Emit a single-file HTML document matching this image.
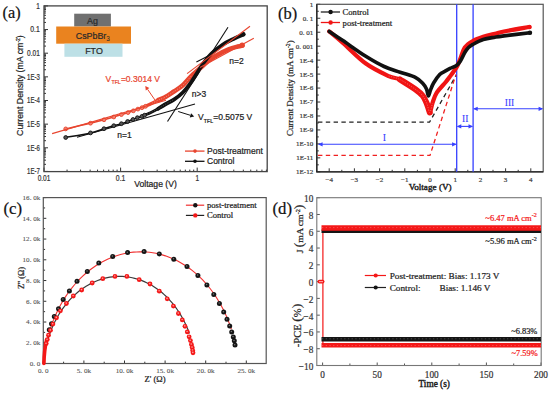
<!DOCTYPE html>
<html><head><meta charset="utf-8"><style>
html,body{margin:0;padding:0;background:#fff;width:550px;height:393px;overflow:hidden;}
svg{display:block;}
</style></head><body>
<svg width="550" height="393" viewBox="0 0 550 393">
<rect width="550" height="393" fill="#fff"/>
<rect x="74.2" y="13.7" width="36.7" height="12.8" fill="#707070"/>
<rect x="56.2" y="26.5" width="74.8" height="17.2" fill="#ea831f"/>
<rect x="64.4" y="43.7" width="58.1" height="13.1" fill="#bde0e6"/>
<text x="92.5" y="23.5" font-size="8.9" font-family='"Liberation Sans", sans-serif' fill="#2a2a2a" text-anchor="middle" stroke="#2a2a2a" stroke-width="0.22" >Ag</text>
<text x="92.8" y="38.7" font-size="8.9" font-family='"Liberation Sans", sans-serif' fill="#2a2a2a" text-anchor="middle" stroke="#2a2a2a" stroke-width="0.22" >CsPbBr<tspan font-size="6.4" dy="2.4" stroke-width="0.05">3</tspan></text>
<text x="94" y="53.8" font-size="8.9" font-family='"Liberation Sans", sans-serif' fill="#2a2a2a" text-anchor="middle" stroke="#2a2a2a" stroke-width="0.22" >FTO</text>
<path d="M44,5.9 h4 M44,22.43 h2 M44,18.27 h2 M44,15.31 h2 M44,13.02 h2 M44,11.15 h2 M44,9.56 h2 M44,8.19 h2 M44,6.98 h2 M44,29.55 h4 M44,46.08 h2 M44,41.92 h2 M44,38.96 h2 M44,36.67 h2 M44,34.8 h2 M44,33.21 h2 M44,31.84 h2 M44,30.63 h2 M44,53.2 h4 M44,69.73 h2 M44,65.57 h2 M44,62.61 h2 M44,60.32 h2 M44,58.45 h2 M44,56.86 h2 M44,55.49 h2 M44,54.28 h2 M44,76.85 h4 M44,93.38 h2 M44,89.22 h2 M44,86.26 h2 M44,83.97 h2 M44,82.1 h2 M44,80.51 h2 M44,79.14 h2 M44,77.93 h2 M44,100.5 h4 M44,117.03 h2 M44,112.87 h2 M44,109.91 h2 M44,107.62 h2 M44,105.75 h2 M44,104.16 h2 M44,102.79 h2 M44,101.58 h2 M44,124.15 h4 M44,140.68 h2 M44,136.52 h2 M44,133.56 h2 M44,131.27 h2 M44,129.4 h2 M44,127.81 h2 M44,126.44 h2 M44,125.23 h2 M44,147.8 h4 M44,164.33 h2 M44,160.17 h2 M44,157.21 h2 M44,154.92 h2 M44,153.05 h2 M44,151.46 h2 M44,150.09 h2 M44,148.88 h2 M44,171.45 h4 M44,171.6 v-4 M67.06,171.6 v-2 M80.55,171.6 v-2 M90.12,171.6 v-2 M97.54,171.6 v-2 M103.61,171.6 v-2 M108.73,171.6 v-2 M113.18,171.6 v-2 M117.09,171.6 v-2 M120.6,171.6 v-4 M143.66,171.6 v-2 M157.15,171.6 v-2 M166.72,171.6 v-2 M174.14,171.6 v-2 M180.21,171.6 v-2 M185.33,171.6 v-2 M189.78,171.6 v-2 M193.69,171.6 v-2 M197.2,171.6 v-4 M220.26,171.6 v-2 M233.75,171.6 v-2 M243.32,171.6 v-2 M250.74,171.6 v-2 M256.81,171.6 v-2 M261.93,171.6 v-2 M266.38,171.6 v-2" stroke="#333" stroke-width="1" fill="none"/>
<rect x="44" y="5.9" width="223.2" height="165.7" fill="none" stroke="#444" stroke-width="1.3"/>
<text x="39.8" y="8.8" font-size="8.3" font-family='"Liberation Sans", sans-serif' fill="#333" text-anchor="end" stroke="#333" stroke-width="0.22" textLength="3.6" lengthAdjust="spacingAndGlyphs">1</text>
<text x="39.8" y="32.45" font-size="8.3" font-family='"Liberation Sans", sans-serif' fill="#333" text-anchor="end" stroke="#333" stroke-width="0.22" textLength="9.5" lengthAdjust="spacingAndGlyphs">0.1</text>
<text x="39.8" y="56.1" font-size="8.3" font-family='"Liberation Sans", sans-serif' fill="#333" text-anchor="end" stroke="#333" stroke-width="0.22" textLength="12.7" lengthAdjust="spacingAndGlyphs">0.01</text>
<text x="39.8" y="79.75" font-size="8.3" font-family='"Liberation Sans", sans-serif' fill="#333" text-anchor="end" stroke="#333" stroke-width="0.22" textLength="12.7" lengthAdjust="spacingAndGlyphs">1E-3</text>
<text x="39.8" y="103.4" font-size="8.3" font-family='"Liberation Sans", sans-serif' fill="#333" text-anchor="end" stroke="#333" stroke-width="0.22" textLength="12.7" lengthAdjust="spacingAndGlyphs">1E-4</text>
<text x="39.8" y="127.05" font-size="8.3" font-family='"Liberation Sans", sans-serif' fill="#333" text-anchor="end" stroke="#333" stroke-width="0.22" textLength="12.7" lengthAdjust="spacingAndGlyphs">1E-5</text>
<text x="39.8" y="150.7" font-size="8.3" font-family='"Liberation Sans", sans-serif' fill="#333" text-anchor="end" stroke="#333" stroke-width="0.22" textLength="12.7" lengthAdjust="spacingAndGlyphs">1E-6</text>
<text x="39.8" y="174.35" font-size="8.3" font-family='"Liberation Sans", sans-serif' fill="#333" text-anchor="end" stroke="#333" stroke-width="0.22" textLength="12.7" lengthAdjust="spacingAndGlyphs">1E-7</text>
<text x="44" y="181.1" font-size="8.3" font-family='"Liberation Sans", sans-serif' fill="#333" text-anchor="middle" stroke="#333" stroke-width="0.22" textLength="12.7" lengthAdjust="spacingAndGlyphs">0.01</text>
<text x="120.6" y="181.1" font-size="8.3" font-family='"Liberation Sans", sans-serif' fill="#333" text-anchor="middle" stroke="#333" stroke-width="0.22" textLength="9.5" lengthAdjust="spacingAndGlyphs">0.1</text>
<text x="197.2" y="181.1" font-size="8.3" font-family='"Liberation Sans", sans-serif' fill="#333" text-anchor="middle" stroke="#333" stroke-width="0.22" textLength="3.6" lengthAdjust="spacingAndGlyphs">1</text>
<text x="155.5" y="187.2" font-size="8.6" font-family='"Liberation Sans", sans-serif' fill="#222" text-anchor="middle" stroke="#222" stroke-width="0.22" >Voltage (V)</text>
<text x="0" y="0" font-size="8.8" font-family='"Liberation Sans", sans-serif' fill="#222" text-anchor="middle" stroke="#222" stroke-width="0.22" transform="translate(23.4,85.6) rotate(-90)">Current Density (mA cm<tspan font-size="5" dy="-3">-2</tspan><tspan dy="3">)</tspan></text>
<text x="2.6" y="18" font-size="16.3" font-family='"Liberation Serif", serif' fill="#111" text-anchor="start" stroke="#111" stroke-width="0.22" >(a)</text>
<path d="M77,137.3 L195,104" stroke="#111" stroke-width="1.1" fill="none"/>
<path d="M167.5,121.5 L228,27.3" stroke="#111" stroke-width="1.1" fill="none"/>
<path d="M196.4,61.9 L214,53" stroke="#111" stroke-width="1.1" fill="none"/>
<path d="M65.7,128.9 C69.83,127.95 84.12,124.72 90.5,123.2 C96.88,121.68 100.12,120.83 104,119.8 C107.88,118.77 110.9,117.87 113.8,117 C116.7,116.13 119.03,115.33 121.4,114.6 C123.77,113.87 126,113.23 128,112.6 C130,111.97 131.75,111.38 133.4,110.8 C135.05,110.22 136.48,109.62 137.9,109.1 C139.32,108.58 140.63,108.17 141.9,107.7 C143.17,107.23 143.82,107.03 145.5,106.3 C147.18,105.57 149.92,104.32 152,103.3 C154.08,102.28 157,100.72 158,100.2" stroke="#e8452f" stroke-width="1.5" fill="none"/>
<path d="M65.7,137.5 C69.83,136.73 84.12,134.37 90.5,132.9 C96.88,131.43 100.12,129.9 104,128.7 C107.88,127.5 110.9,126.53 113.8,125.7 C116.7,124.87 119.1,124.4 121.4,123.7 C123.7,123 125.67,122.2 127.6,121.5 C129.53,120.8 131.37,120.13 133,119.5 C134.63,118.87 135.92,118.22 137.4,117.7 C138.88,117.18 140.7,116.82 141.9,116.4 C143.1,115.98 143.08,115.87 144.6,115.2 C146.12,114.53 148.77,113.47 151,112.4 C153.23,111.33 156.83,109.4 158,108.8" stroke="#111" stroke-width="1.5" fill="none"/>
<path d="M141.9,107.7 C142.5,107.47 143.82,107.03 145.5,106.3 C147.18,105.57 149.92,104.32 152,103.3 C154.08,102.28 155.83,101.2 158,100.2 C160.17,99.2 163.83,97.78 165,97.3" stroke="#e8452f" stroke-width="3.2" fill="none" stroke-linecap="round"/>
<path d="M158,100.2 C159.17,99.72 162.35,98.75 165,97.3 C167.65,95.85 170.93,93.5 173.9,91.5 C176.87,89.5 179.87,87.92 182.8,85.3 C185.73,82.68 188.15,79.07 191.5,75.8 C194.85,72.53 199.82,68.4 202.9,65.7 C205.98,63 207.62,61.4 210,59.6 C212.38,57.8 214.1,56.6 217.2,54.9 C220.3,53.2 225.17,50.8 228.6,49.4 C232.03,48 235.5,47.15 237.8,46.5 C240.1,45.85 241.63,45.67 242.4,45.5" stroke="#e8452f" stroke-width="4.6" fill="none" stroke-linecap="round"/>
<path d="M152,103.3 C153,102.78 155.83,101.2 158,100.2 C160.17,99.2 162.35,98.75 165,97.3 C167.65,95.85 170.93,93.5 173.9,91.5 C176.87,89.5 179.87,87.92 182.8,85.3 C185.73,82.68 190.05,77.38 191.5,75.8" stroke="#fbd0c8" stroke-width="0.7" fill="none" stroke-dasharray="1,1.6" opacity="0.8"/>
<path d="M141.9,116.4 C142.35,116.2 143.08,115.87 144.6,115.2 C146.12,114.53 148.77,113.47 151,112.4 C153.23,111.33 155.67,110.12 158,108.8 C160.33,107.48 163.83,105.22 165,104.5" stroke="#111" stroke-width="2.8" fill="none" stroke-linecap="round"/>
<path d="M158,108.8 C159.17,108.08 162.35,106.03 165,104.5 C167.65,102.97 170.93,101.6 173.9,99.6 C176.87,97.6 179.85,95.52 182.8,92.5 C185.75,89.48 188.32,86.17 191.6,81.5 C194.88,76.83 199.18,69.17 202.5,64.5 C205.82,59.83 208.1,56.83 211.5,53.5 C214.9,50.17 219.08,47 222.9,44.5 C226.72,42 230.97,40.17 234.4,38.5 C237.83,36.83 241.98,35.17 243.5,34.5" stroke="#111" stroke-width="3.8" fill="none" stroke-linecap="round"/>
<path d="M144.6,115.2 C145.67,114.73 148.77,113.47 151,112.4 C153.23,111.33 155.67,110.12 158,108.8 C160.33,107.48 162.35,106.03 165,104.5 C167.65,102.97 172.42,100.42 173.9,99.6" stroke="#aaa" stroke-width="0.6" fill="none" stroke-dasharray="1,1.6" opacity="0.7"/>
<circle cx="65.7" cy="128.9" r="1.9" fill="#f3806f" stroke="#e8452f" stroke-width="0.9"/>
<circle cx="90.5" cy="123.2" r="1.9" fill="#f3806f" stroke="#e8452f" stroke-width="0.9"/>
<circle cx="104" cy="119.8" r="1.9" fill="#f3806f" stroke="#e8452f" stroke-width="0.9"/>
<circle cx="113.8" cy="117" r="1.9" fill="#f3806f" stroke="#e8452f" stroke-width="0.9"/>
<circle cx="121.4" cy="114.6" r="1.9" fill="#f3806f" stroke="#e8452f" stroke-width="0.9"/>
<circle cx="128" cy="112.6" r="1.9" fill="#f3806f" stroke="#e8452f" stroke-width="0.9"/>
<circle cx="133.4" cy="110.8" r="1.9" fill="#f3806f" stroke="#e8452f" stroke-width="0.9"/>
<circle cx="137.9" cy="109.1" r="1.9" fill="#f3806f" stroke="#e8452f" stroke-width="0.9"/>
<circle cx="141.9" cy="107.7" r="1.9" fill="#f3806f" stroke="#e8452f" stroke-width="0.9"/>
<circle cx="145.5" cy="106.3" r="1.9" fill="#f3806f" stroke="#e8452f" stroke-width="0.9"/>
<circle cx="65.7" cy="137.5" r="1.9" fill="#555" stroke="#111" stroke-width="0.9"/>
<circle cx="90.5" cy="132.9" r="1.9" fill="#555" stroke="#111" stroke-width="0.9"/>
<circle cx="104" cy="128.7" r="1.9" fill="#555" stroke="#111" stroke-width="0.9"/>
<circle cx="113.8" cy="125.7" r="1.9" fill="#555" stroke="#111" stroke-width="0.9"/>
<circle cx="121.4" cy="123.7" r="1.9" fill="#555" stroke="#111" stroke-width="0.9"/>
<circle cx="127.6" cy="121.5" r="1.9" fill="#555" stroke="#111" stroke-width="0.9"/>
<circle cx="133" cy="119.5" r="1.9" fill="#555" stroke="#111" stroke-width="0.9"/>
<circle cx="137.4" cy="117.7" r="1.9" fill="#555" stroke="#111" stroke-width="0.9"/>
<circle cx="141.9" cy="116.4" r="1.9" fill="#555" stroke="#111" stroke-width="0.9"/>
<circle cx="144.6" cy="115.2" r="1.9" fill="#555" stroke="#111" stroke-width="0.9"/>
<circle cx="242.2" cy="45.2" r="2.6" fill="#e8452f"/>
<circle cx="243.3" cy="34.3" r="2.2" fill="#111"/>
<path d="M52.1,133.6 L166,100.2" stroke="#e8452f" stroke-width="1.1" fill="none"/>
<path d="M187.1,73.6 L250,26.2" stroke="#e8452f" stroke-width="1.1" fill="none"/>
<path d="M200,67.5 L253.8,38.3" stroke="#e8452f" stroke-width="1.1" fill="none"/>
<path d="M155.3,100.5 L147.57,89.29" stroke="#e8452f" stroke-width="1"/><path d="M145.3,86 L149.38,88.04 L145.76,90.54 Z" fill="#e8452f"/>
<path d="M178.2,111.5 L190.38,115.31" stroke="#111" stroke-width="1"/><path d="M194.2,116.5 L189.73,117.41 L191.04,113.21 Z" fill="#111"/>
<text x="105.5" y="82.2" font-size="8.5" font-family='"Liberation Sans", sans-serif' fill="#e8452f" text-anchor="start" stroke="#e8452f" stroke-width="0.22" >V<tspan font-size="5.2" dy="2.2" dx="0.3">TFL</tspan><tspan dy="-2.2" dx="0.2">=0.3014 V</tspan></text>
<text x="197.9" y="120.3" font-size="8.5" font-family='"Liberation Sans", sans-serif' fill="#222" text-anchor="start" stroke="#222" stroke-width="0.22" >V<tspan font-size="5.2" dy="2.2" dx="0.3">TFL</tspan><tspan dy="-2.2" dx="0.2">=0.5075 V</tspan></text>
<text x="191.8" y="96.9" font-size="8.5" font-family='"Liberation Sans", sans-serif' fill="#222" text-anchor="start" stroke="#222" stroke-width="0.22" >n&gt;3</text>
<text x="229.3" y="64.1" font-size="8.5" font-family='"Liberation Sans", sans-serif' fill="#222" text-anchor="start" stroke="#222" stroke-width="0.22" >n=2</text>
<text x="117.2" y="138.1" font-size="8.5" font-family='"Liberation Sans", sans-serif' fill="#222" text-anchor="start" stroke="#222" stroke-width="0.22" >n=1</text>
<path d="M185,151.1 H204.5" stroke="#e8452f" stroke-width="1.3"/><circle cx="195" cy="151.1" r="1.8" fill="#e8452f"/>
<path d="M185,161.3 H204.5" stroke="#111" stroke-width="1.3"/><circle cx="195" cy="161.3" r="1.8" fill="#111"/>
<text x="207" y="154.2" font-size="8.5" font-family='"Liberation Sans", sans-serif' fill="#222" text-anchor="start" stroke="#222" stroke-width="0.22" >Post-treatment</text>
<text x="207" y="164.3" font-size="8.5" font-family='"Liberation Sans", sans-serif' fill="#222" text-anchor="start" stroke="#222" stroke-width="0.22" >Control</text>
<path d="M316.8,4.3 h3.5 M316.8,11.28 h2 M316.8,18.26 h3.5 M316.8,25.24 h2 M316.8,32.22 h3.5 M316.8,39.2 h2 M316.8,46.18 h3.5 M316.8,53.16 h2 M316.8,60.14 h3.5 M316.8,67.12 h2 M316.8,74.1 h3.5 M316.8,81.08 h2 M316.8,88.06 h3.5 M316.8,95.04 h2 M316.8,102.02 h3.5 M316.8,109 h2 M316.8,115.98 h3.5 M316.8,122.96 h2 M316.8,129.94 h3.5 M316.8,136.92 h2 M316.8,143.9 h3.5 M316.8,150.88 h2 M316.8,157.86 h3.5 M316.8,164.84 h2 M316.8,171.82 h3.5 M329.2,171.8 v-3.5 M354.4,171.8 v-3.5 M379.6,171.8 v-3.5 M404.8,171.8 v-3.5 M430,171.8 v-3.5 M455.2,171.8 v-3.5 M480.4,171.8 v-3.5 M505.6,171.8 v-3.5 M530.8,171.8 v-3.5 M316.6,171.8 v-2 M341.8,171.8 v-2 M367,171.8 v-2 M392.2,171.8 v-2 M417.4,171.8 v-2 M442.6,171.8 v-2 M467.8,171.8 v-2 M493,171.8 v-2 M518.2,171.8 v-2" stroke="#333" stroke-width="1" fill="none"/>
<rect x="316.8" y="4.3" width="226.4" height="167.5" fill="none" stroke="#555" stroke-width="1.2"/>
<path d="M316.8,4.3 V171.8 H543.2" fill="none" stroke="#222" stroke-width="1.3"/>
<text x="313.2" y="6.7" font-size="7" font-family='"Liberation Serif", serif' fill="#444" text-anchor="end" stroke="#444" stroke-width="0.22" >1</text>
<text x="313.2" y="20.66" font-size="7" font-family='"Liberation Serif", serif' fill="#444" text-anchor="end" stroke="#444" stroke-width="0.22" >0. 1</text>
<text x="313.2" y="34.62" font-size="7" font-family='"Liberation Serif", serif' fill="#444" text-anchor="end" stroke="#444" stroke-width="0.22" >0. 01</text>
<text x="313.2" y="48.58" font-size="7" font-family='"Liberation Serif", serif' fill="#444" text-anchor="end" stroke="#444" stroke-width="0.22" >0. 001</text>
<text x="313.2" y="62.54" font-size="7" font-family='"Liberation Serif", serif' fill="#444" text-anchor="end" stroke="#444" stroke-width="0.22" >1E-4</text>
<text x="313.2" y="76.5" font-size="7" font-family='"Liberation Serif", serif' fill="#444" text-anchor="end" stroke="#444" stroke-width="0.22" >1E-5</text>
<text x="313.2" y="90.46" font-size="7" font-family='"Liberation Serif", serif' fill="#444" text-anchor="end" stroke="#444" stroke-width="0.22" >1E-6</text>
<text x="313.2" y="104.42" font-size="7" font-family='"Liberation Serif", serif' fill="#444" text-anchor="end" stroke="#444" stroke-width="0.22" >1E-7</text>
<text x="313.2" y="118.38" font-size="7" font-family='"Liberation Serif", serif' fill="#444" text-anchor="end" stroke="#444" stroke-width="0.22" >1E-8</text>
<text x="313.2" y="132.34" font-size="7" font-family='"Liberation Serif", serif' fill="#444" text-anchor="end" stroke="#444" stroke-width="0.22" >1E-9</text>
<text x="313.2" y="146.3" font-size="7" font-family='"Liberation Serif", serif' fill="#444" text-anchor="end" stroke="#444" stroke-width="0.22" >1E-10</text>
<text x="313.2" y="160.26" font-size="7" font-family='"Liberation Serif", serif' fill="#444" text-anchor="end" stroke="#444" stroke-width="0.22" >1E-11</text>
<text x="313.2" y="174.22" font-size="7" font-family='"Liberation Serif", serif' fill="#444" text-anchor="end" stroke="#444" stroke-width="0.22" >1E-12</text>
<text x="329.2" y="181.7" font-size="7" font-family='"Liberation Serif", serif' fill="#444" text-anchor="middle" stroke="#444" stroke-width="0.22" >&#8722;4</text>
<text x="354.4" y="181.7" font-size="7" font-family='"Liberation Serif", serif' fill="#444" text-anchor="middle" stroke="#444" stroke-width="0.22" >&#8722;3</text>
<text x="379.6" y="181.7" font-size="7" font-family='"Liberation Serif", serif' fill="#444" text-anchor="middle" stroke="#444" stroke-width="0.22" >&#8722;2</text>
<text x="404.8" y="181.7" font-size="7" font-family='"Liberation Serif", serif' fill="#444" text-anchor="middle" stroke="#444" stroke-width="0.22" >&#8722;1</text>
<text x="430" y="181.7" font-size="7" font-family='"Liberation Serif", serif' fill="#444" text-anchor="middle" stroke="#444" stroke-width="0.22" >0</text>
<text x="455.2" y="181.7" font-size="7" font-family='"Liberation Serif", serif' fill="#444" text-anchor="middle" stroke="#444" stroke-width="0.22" >1</text>
<text x="480.4" y="181.7" font-size="7" font-family='"Liberation Serif", serif' fill="#444" text-anchor="middle" stroke="#444" stroke-width="0.22" >2</text>
<text x="505.6" y="181.7" font-size="7" font-family='"Liberation Serif", serif' fill="#444" text-anchor="middle" stroke="#444" stroke-width="0.22" >3</text>
<text x="530.8" y="181.7" font-size="7" font-family='"Liberation Serif", serif' fill="#444" text-anchor="middle" stroke="#444" stroke-width="0.22" >4</text>
<text x="430.2" y="190" font-size="9.2" font-family='"Liberation Serif", serif' fill="#1a1a1a" text-anchor="middle" stroke="#1a1a1a" stroke-width="0.4" >Voltage (V)</text>
<text x="0" y="0" font-size="8.9" font-family='"Liberation Serif", serif' fill="#222" text-anchor="middle" stroke="#222" stroke-width="0.22" transform="translate(293.2,88.2) rotate(-90)">Current Density (mA cm<tspan font-size="5.6" dy="-3.3">-2</tspan><tspan dy="3.3">)</tspan></text>
<text x="278" y="19.1" font-size="16.4" font-family='"Liberation Serif", serif' fill="#111" text-anchor="start" stroke="#111" stroke-width="0.22" >(b)</text>
<path d="M456.7,4.3 V171.8 M473.1,4.3 V171.8" stroke="#3640ff" stroke-width="1.3"/>
<path d="M319,144.3 H455.7" stroke="#3640ff" stroke-width="1.1"/><path d="M318,144.3 l4.6,-2.1 v4.2 Z M456.7,144.3 l-4.6,-2.1 v4.2 Z" fill="#3640ff"/>
<path d="M457.7,126.4 H472.1" stroke="#3640ff" stroke-width="1.1"/><path d="M456.7,126.4 l4.6,-2.1 v4.2 Z M473.1,126.4 l-4.6,-2.1 v4.2 Z" fill="#3640ff"/>
<path d="M474.1,108.8 H542.2" stroke="#3640ff" stroke-width="1.1"/><path d="M473.1,108.8 l4.6,-2.1 v4.2 Z M543.2,108.8 l-4.6,-2.1 v4.2 Z" fill="#3640ff"/>
<text x="384.5" y="140.9" font-size="9.8" font-family='"Liberation Serif", serif' fill="#3640ff" text-anchor="middle" stroke="#3640ff" stroke-width="0.1" >I</text>
<text x="465.2" y="122.4" font-size="9.6" font-family='"Liberation Serif", serif' fill="#3640ff" text-anchor="middle" stroke="#3640ff" stroke-width="0.1" >II</text>
<text x="509.5" y="105.5" font-size="9.6" font-family='"Liberation Serif", serif' fill="#3640ff" text-anchor="middle" stroke="#3640ff" stroke-width="0.1" >III</text>
<path d="M318,122.2 H429.5 L456,75.5" stroke="#222" stroke-width="1.3" fill="none" stroke-dasharray="4.4,3.4"/>
<path d="M318,155.4 H430 L456,74.5" stroke="#f02020" stroke-width="1.3" fill="none" stroke-dasharray="4.4,3.4"/>
<path d="M329.2,31.4 C331.48,33.32 336.8,37.55 342.9,42.9 C349,48.25 358.17,57.97 365.8,63.5 C373.43,69.03 383,73.43 388.7,76.1 C394.4,78.77 395.57,77.3 400,79.5 C404.43,81.7 411.48,86.55 415.3,89.3 C419.12,92.05 420.95,93.55 422.9,96 C424.85,98.45 425.85,101.25 427,104 C428.15,106.75 428.88,112.67 429.8,112.5 C430.72,112.33 431.37,106.28 432.5,103 C433.63,99.72 434.38,96.3 436.6,92.8 C438.82,89.3 443.63,84.63 445.8,82 C447.97,79.37 447.82,79.43 449.6,77 C451.38,74.57 454.72,70.43 456.5,67.4 C458.28,64.37 458.92,62.12 460.3,58.8 C461.68,55.48 462.7,50.47 464.8,47.5 C466.9,44.53 469.83,42.78 472.9,41 C475.97,39.22 479.52,38 483.2,36.8 C486.88,35.6 491.53,34.68 495,33.8 C498.47,32.92 498.27,32.63 504,31.5 C509.73,30.37 525.17,27.75 529.4,27" stroke="#f01414" stroke-width="4.2" fill="none" stroke-linecap="round" stroke-linejoin="round"/>
<path d="M400,79.5 C402.55,81.13 411.48,86.55 415.3,89.3 C419.12,92.05 420.95,93.55 422.9,96 C424.85,98.45 425.85,101.25 427,104 C428.15,106.75 429.33,111.08 429.8,112.5" stroke="#f01414" stroke-width="6" fill="none" stroke-linecap="round"/>
<path d="M388.7,76.1 C390.58,76.67 395.57,77.3 400,79.5 C404.43,81.7 411.48,86.55 415.3,89.3 C419.12,92.05 420.95,93.55 422.9,96 C424.85,98.45 425.85,101.25 427,104 C428.15,106.75 428.88,112.67 429.8,112.5 C430.72,112.33 432.05,104.58 432.5,103" stroke="#f88" stroke-width="0.9" fill="none" stroke-dasharray="1,1.5" opacity="0.75"/>
<path d="M329.2,31.4 C331.48,32.93 336.8,36.45 342.9,40.6 C349,44.75 358.93,51.98 365.8,56.3 C372.67,60.62 378.38,63.85 384.1,66.5 C389.82,69.15 394.9,70.4 400.1,72.2 C405.3,74 411.5,75.42 415.3,77.3 C419.1,79.18 421.03,81.55 422.9,83.5 C424.77,85.45 425.58,86.92 426.5,89 C427.42,91.08 427.73,95.83 428.4,96 C429.07,96.17 429.63,92.17 430.5,90 C431.37,87.83 432.07,85.58 433.6,83 C435.13,80.42 437.8,76.47 439.7,74.5 C441.6,72.53 443.28,72.22 445,71.2 C446.72,70.18 448.08,69.37 450,68.4 C451.92,67.43 454.78,66.6 456.5,65.4 C458.22,64.2 458.92,63.35 460.3,61.2 C461.68,59.05 463.43,54.78 464.8,52.5 C466.17,50.22 467.15,48.85 468.5,47.5 C469.85,46.15 470.45,45.73 472.9,44.4 C475.35,43.07 479.52,40.7 483.2,39.5 C486.88,38.3 491.53,37.8 495,37.2 C498.47,36.6 498.18,36.63 504,35.9 C509.82,35.17 525.58,33.32 529.9,32.8" stroke="#111" stroke-width="3.6" fill="none" stroke-linecap="round" stroke-linejoin="round"/>
<circle cx="529.9" cy="32.8" r="2.3" fill="#111"/><circle cx="529.4" cy="27" r="2.3" fill="#f01414"/>
<path d="M320.8,12 H340" stroke="#222" stroke-width="1.3"/><circle cx="330.6" cy="12" r="2.2" fill="#111"/>
<path d="M320.8,22.5 H340" stroke="#f01414" stroke-width="1.3"/><circle cx="330.6" cy="22.5" r="2.2" fill="#f01414"/>
<text x="342.6" y="15.3" font-size="8.6" font-family='"Liberation Serif", serif' fill="#222" text-anchor="start" stroke="#222" stroke-width="0.22" >Control</text>
<text x="342.6" y="25.8" font-size="8.6" font-family='"Liberation Serif", serif' fill="#222" text-anchor="start" stroke="#222" stroke-width="0.22" >post-treatment</text>
<path d="M43.3,363.5 h3 M43.3,342.76 h3 M43.3,322.02 h3 M43.3,301.28 h3 M43.3,280.54 h3 M43.3,259.8 h3 M43.3,239.06 h3 M43.3,218.32 h3 M43.3,197.58 h3 M43.3,353.13 h1.8 M43.3,332.39 h1.8 M43.3,311.65 h1.8 M43.3,290.91 h1.8 M43.3,270.17 h1.8 M43.3,249.43 h1.8 M43.3,228.69 h1.8 M43.3,207.95 h1.8 M43.3,363.5 v-3 M83.9,363.5 v-3 M124.5,363.5 v-3 M165.1,363.5 v-3 M205.7,363.5 v-3 M246.3,363.5 v-3 M63.6,363.5 v-1.8 M104.2,363.5 v-1.8 M144.8,363.5 v-1.8 M185.4,363.5 v-1.8 M226,363.5 v-1.8" stroke="#333" stroke-width="1" fill="none"/>
<rect x="43.3" y="197.6" width="222.9" height="165.9" fill="none" stroke="#555" stroke-width="1.2"/>
<text x="40.3" y="365.9" font-size="7.1" font-family='"Liberation Serif", serif' fill="#555" text-anchor="end" stroke="#555" stroke-width="0.1" >0. 0</text>
<text x="40.3" y="345.16" font-size="7.1" font-family='"Liberation Serif", serif' fill="#555" text-anchor="end" stroke="#555" stroke-width="0.1" >2. 0k</text>
<text x="40.3" y="324.42" font-size="7.1" font-family='"Liberation Serif", serif' fill="#555" text-anchor="end" stroke="#555" stroke-width="0.1" >4. 0k</text>
<text x="40.3" y="303.68" font-size="7.1" font-family='"Liberation Serif", serif' fill="#555" text-anchor="end" stroke="#555" stroke-width="0.1" >6. 0k</text>
<text x="40.3" y="282.94" font-size="7.1" font-family='"Liberation Serif", serif' fill="#555" text-anchor="end" stroke="#555" stroke-width="0.1" >8. 0k</text>
<text x="40.3" y="262.2" font-size="7.1" font-family='"Liberation Serif", serif' fill="#555" text-anchor="end" stroke="#555" stroke-width="0.1" >10. 0k</text>
<text x="40.3" y="241.46" font-size="7.1" font-family='"Liberation Serif", serif' fill="#555" text-anchor="end" stroke="#555" stroke-width="0.1" >12. 0k</text>
<text x="40.3" y="220.72" font-size="7.1" font-family='"Liberation Serif", serif' fill="#555" text-anchor="end" stroke="#555" stroke-width="0.1" >14. 0k</text>
<text x="40.3" y="199.98" font-size="7.1" font-family='"Liberation Serif", serif' fill="#555" text-anchor="end" stroke="#555" stroke-width="0.1" >16. 0k</text>
<text x="43.3" y="373.4" font-size="7.1" font-family='"Liberation Serif", serif' fill="#555" text-anchor="middle" stroke="#555" stroke-width="0.1" >0. 0</text>
<text x="83.9" y="373.4" font-size="7.1" font-family='"Liberation Serif", serif' fill="#555" text-anchor="middle" stroke="#555" stroke-width="0.1" >5. 0k</text>
<text x="124.5" y="373.4" font-size="7.1" font-family='"Liberation Serif", serif' fill="#555" text-anchor="middle" stroke="#555" stroke-width="0.1" >10. 0k</text>
<text x="165.1" y="373.4" font-size="7.1" font-family='"Liberation Serif", serif' fill="#555" text-anchor="middle" stroke="#555" stroke-width="0.1" >15. 0k</text>
<text x="205.7" y="373.4" font-size="7.1" font-family='"Liberation Serif", serif' fill="#555" text-anchor="middle" stroke="#555" stroke-width="0.1" >20. 0k</text>
<text x="246.3" y="373.4" font-size="7.1" font-family='"Liberation Serif", serif' fill="#555" text-anchor="middle" stroke="#555" stroke-width="0.1" >25. 0k</text>
<text x="155" y="381.8" font-size="8.6" font-family='"Liberation Serif", serif' fill="#222" text-anchor="middle" stroke="#222" stroke-width="0.22" >Z' (&#937;)</text>
<text x="0" y="0" font-size="8.4" font-family='"Liberation Serif", serif' fill="#222" text-anchor="middle" stroke="#222" stroke-width="0.22" transform="translate(24.2,278) rotate(-90)">Z'' (&#937;)</text>
<text x="3.4" y="214.1" font-size="16.8" font-family='"Liberation Serif", serif' fill="#111" text-anchor="start" stroke="#111" stroke-width="0.22" >(c)</text>
<path d="M43.3,363.5 L43.7,359.4 L44.21,355.32 L44.82,351.26 L45.54,347.23 L46.36,343.23 L47.29,339.27 L48.31,335.35 L49.44,331.47 L50.67,327.64 L51.99,323.87 L53.41,320.16 L54.93,316.51 L56.54,312.92 L58.24,309.41 L60.03,305.96 L61.92,302.6 L63.88,299.32 L65.93,296.12 L68.06,293.01 L70.27,289.99 L72.56,287.06 L74.92,284.24 L77.36,281.51 L79.86,278.89 L82.43,276.38 L85.06,273.97 L87.76,271.68 L90.51,269.5 L93.32,267.44 L96.17,265.5 L99.08,263.68 L102.03,261.99 L105.03,260.42 L108.06,258.98 L111.13,257.66 L114.23,256.48 L117.36,255.43 L120.52,254.51 L123.7,253.72 L126.89,253.07 L130.1,252.55 L133.33,252.17 L136.56,251.93 L139.79,251.82 L143.03,251.85 L146.26,252.01 L149.49,252.32 L152.71,252.75 L155.92,253.32 L159.11,254.03 L162.27,254.87 L165.42,255.85 L168.54,256.96 L171.63,258.19 L174.68,259.56 L177.7,261.06 L180.68,262.68 L183.61,264.42 L186.5,266.29 L189.33,268.28 L192.12,270.39 L194.85,272.62 L197.52,274.96 L200.12,277.41 L202.67,279.96 L205.14,282.63 L207.54,285.4 L209.88,288.26 L212.13,291.23 L214.31,294.29 L216.41,297.43 L218.42,300.67 L220.36,303.99 L222.2,307.38 L223.95,310.86 L225.62,314.4 L227.19,318.01 L228.67,321.69 L230.05,325.43 L231.33,329.23" stroke="#f03030" stroke-width="1.1" fill="none"/>
<path d="M43.3,363.5 L43.62,360.34 L44.02,357.2 L44.5,354.07 L45.05,350.97 L45.69,347.89 L46.41,344.84 L47.2,341.82 L48.07,338.83 L49.01,335.88 L50.03,332.98 L51.12,330.11 L52.29,327.3 L53.52,324.53 L54.83,321.81 L56.2,319.16 L57.64,316.56 L59.15,314.02 L60.71,311.54 L62.35,309.13 L64.04,306.79 L65.79,304.52 L67.6,302.33 L69.46,300.21 L71.37,298.17 L73.34,296.21 L75.35,294.33 L77.41,292.53 L79.52,290.83 L81.67,289.21 L83.85,287.68 L86.08,286.24 L88.34,284.9 L90.63,283.65 L92.96,282.49 L95.31,281.44 L97.69,280.48 L100.09,279.62 L102.51,278.86 L104.95,278.2 L107.41,277.64 L109.88,277.19 L112.36,276.83 L114.84,276.58 L117.33,276.44 L119.83,276.39 L122.32,276.45 L124.81,276.62 L127.3,276.88 L129.77,277.25 L132.24,277.72 L134.69,278.3 L137.13,278.97 L139.55,279.75 L141.95,280.62 L144.32,281.6 L146.67,282.67 L148.99,283.84 L151.28,285.11 L153.53,286.47 L155.75,287.92 L157.94,289.46 L160.08,291.09 L162.18,292.81 L164.23,294.62 L166.24,296.51 L168.19,298.49 L170.1,300.54 L171.95,302.67 L173.75,304.88 L175.49,307.16 L177.17,309.51 L178.8,311.93 L180.35,314.42 L181.85,316.97 L183.28,319.58 L184.64,322.24 L185.94,324.97 L187.16,327.74 L188.31,330.57 L189.39,333.44" stroke="#3a3a3a" stroke-width="1.2" fill="none"/>
<path d="M46.6,340 Q44.2,350 43.9,363.5" stroke="#f41818" stroke-width="3.6" fill="none" stroke-linecap="round"/>
<circle cx="144.1" cy="251.6" r="2.5" fill="#151515"/><circle cx="143.8" cy="251.2" r="0.75" fill="#777"/>
<circle cx="127.6" cy="252.6" r="2.5" fill="#151515"/><circle cx="127.3" cy="252.2" r="0.75" fill="#777"/>
<circle cx="112.7" cy="256.5" r="2.5" fill="#151515"/><circle cx="112.4" cy="256.1" r="0.75" fill="#777"/>
<circle cx="98.8" cy="263.1" r="2.5" fill="#151515"/><circle cx="98.5" cy="262.7" r="0.75" fill="#777"/>
<circle cx="87.3" cy="271.4" r="2.5" fill="#151515"/><circle cx="87" cy="271" r="0.75" fill="#777"/>
<circle cx="77" cy="281.3" r="2.5" fill="#151515"/><circle cx="76.7" cy="280.9" r="0.75" fill="#777"/>
<circle cx="69.4" cy="291" r="2.5" fill="#151515"/><circle cx="69.1" cy="290.6" r="0.75" fill="#777"/>
<circle cx="63.2" cy="299.5" r="2.5" fill="#151515"/><circle cx="62.9" cy="299.1" r="0.75" fill="#777"/>
<circle cx="58.5" cy="308.8" r="2.5" fill="#151515"/><circle cx="58.2" cy="308.4" r="0.75" fill="#777"/>
<circle cx="54.3" cy="316.4" r="2.5" fill="#151515"/><circle cx="54" cy="316" r="0.75" fill="#777"/>
<circle cx="51.5" cy="323.7" r="2.5" fill="#151515"/><circle cx="51.2" cy="323.3" r="0.75" fill="#777"/>
<circle cx="49.3" cy="329.7" r="2.5" fill="#151515"/><circle cx="49" cy="329.3" r="0.75" fill="#777"/>
<circle cx="159.3" cy="253.9" r="2.5" fill="#151515"/><circle cx="159" cy="253.5" r="0.75" fill="#777"/>
<circle cx="173.8" cy="259.2" r="2.5" fill="#151515"/><circle cx="173.5" cy="258.8" r="0.75" fill="#777"/>
<circle cx="187" cy="266.4" r="2.5" fill="#151515"/><circle cx="186.7" cy="266" r="0.75" fill="#777"/>
<circle cx="197.9" cy="275.4" r="2.5" fill="#151515"/><circle cx="197.6" cy="275" r="0.75" fill="#777"/>
<circle cx="206.9" cy="285" r="2.5" fill="#151515"/><circle cx="206.6" cy="284.6" r="0.75" fill="#777"/>
<circle cx="213.8" cy="294.5" r="2.5" fill="#151515"/><circle cx="213.5" cy="294.1" r="0.75" fill="#777"/>
<circle cx="219.4" cy="303.5" r="2.5" fill="#151515"/><circle cx="219.1" cy="303.1" r="0.75" fill="#777"/>
<circle cx="223.7" cy="312.1" r="2.5" fill="#151515"/><circle cx="223.4" cy="311.7" r="0.75" fill="#777"/>
<circle cx="227" cy="319.3" r="2.5" fill="#151515"/><circle cx="226.7" cy="318.9" r="0.75" fill="#777"/>
<circle cx="229.7" cy="326" r="2.5" fill="#151515"/><circle cx="229.4" cy="325.6" r="0.75" fill="#777"/>
<circle cx="231.7" cy="331.9" r="2.5" fill="#151515"/><circle cx="231.4" cy="331.5" r="0.75" fill="#777"/>
<circle cx="233.3" cy="336.9" r="2.5" fill="#151515"/><circle cx="233" cy="336.5" r="0.75" fill="#777"/>
<circle cx="234.3" cy="340.8" r="2.5" fill="#151515"/><circle cx="234" cy="340.4" r="0.75" fill="#777"/>
<circle cx="235" cy="345.1" r="2.5" fill="#151515"/><circle cx="234.7" cy="344.7" r="0.75" fill="#777"/>
<circle cx="115" cy="276.4" r="2.4" fill="#f41818"/><circle cx="114.8" cy="276" r="0.8" fill="#ffa0a0"/>
<circle cx="126.9" cy="276.4" r="2.4" fill="#f41818"/><circle cx="126.7" cy="276" r="0.8" fill="#ffa0a0"/>
<circle cx="139.2" cy="279.7" r="2.4" fill="#f41818"/><circle cx="139" cy="279.3" r="0.8" fill="#ffa0a0"/>
<circle cx="150" cy="284" r="2.4" fill="#f41818"/><circle cx="149.8" cy="283.6" r="0.8" fill="#ffa0a0"/>
<circle cx="159.3" cy="291.2" r="2.4" fill="#f41818"/><circle cx="159.1" cy="290.8" r="0.8" fill="#ffa0a0"/>
<circle cx="167.2" cy="298.8" r="2.4" fill="#f41818"/><circle cx="167" cy="298.4" r="0.8" fill="#ffa0a0"/>
<circle cx="173.4" cy="306.1" r="2.4" fill="#f41818"/><circle cx="173.2" cy="305.7" r="0.8" fill="#ffa0a0"/>
<circle cx="178.4" cy="313.5" r="2.4" fill="#f41818"/><circle cx="178.2" cy="313.1" r="0.8" fill="#ffa0a0"/>
<circle cx="182.3" cy="319.9" r="2.4" fill="#f41818"/><circle cx="182.1" cy="319.5" r="0.8" fill="#ffa0a0"/>
<circle cx="185" cy="326.3" r="2.4" fill="#f41818"/><circle cx="184.8" cy="325.9" r="0.8" fill="#ffa0a0"/>
<circle cx="187.3" cy="331.9" r="2.4" fill="#f41818"/><circle cx="187.1" cy="331.5" r="0.8" fill="#ffa0a0"/>
<circle cx="189.1" cy="336.8" r="2.4" fill="#f41818"/><circle cx="188.9" cy="336.4" r="0.8" fill="#ffa0a0"/>
<circle cx="190.4" cy="340.6" r="2.4" fill="#f41818"/><circle cx="190.2" cy="340.2" r="0.8" fill="#ffa0a0"/>
<circle cx="191.4" cy="344.4" r="2.4" fill="#f41818"/><circle cx="191.2" cy="344" r="0.8" fill="#ffa0a0"/>
<circle cx="192.2" cy="347.5" r="2.4" fill="#f41818"/><circle cx="192" cy="347.1" r="0.8" fill="#ffa0a0"/>
<circle cx="192.7" cy="350.5" r="2.4" fill="#f41818"/><circle cx="192.5" cy="350.1" r="0.8" fill="#ffa0a0"/>
<circle cx="193" cy="352.8" r="2.4" fill="#f41818"/><circle cx="192.8" cy="352.4" r="0.8" fill="#ffa0a0"/>
<circle cx="102.8" cy="278.7" r="2.4" fill="#f41818"/><circle cx="102.6" cy="278.3" r="0.8" fill="#ffa0a0"/>
<circle cx="92.2" cy="283" r="2.4" fill="#f41818"/><circle cx="92" cy="282.6" r="0.8" fill="#ffa0a0"/>
<circle cx="81.7" cy="290" r="2.4" fill="#f41818"/><circle cx="81.5" cy="289.6" r="0.8" fill="#ffa0a0"/>
<circle cx="73.3" cy="296" r="2.4" fill="#f41818"/><circle cx="73.1" cy="295.6" r="0.8" fill="#ffa0a0"/>
<circle cx="66.4" cy="303.5" r="2.4" fill="#f41818"/><circle cx="66.2" cy="303.1" r="0.8" fill="#ffa0a0"/>
<circle cx="60.4" cy="310.8" r="2.4" fill="#f41818"/><circle cx="60.2" cy="310.4" r="0.8" fill="#ffa0a0"/>
<circle cx="56.5" cy="317.8" r="2.4" fill="#f41818"/><circle cx="56.3" cy="317.4" r="0.8" fill="#ffa0a0"/>
<circle cx="52.9" cy="324.1" r="2.4" fill="#f41818"/><circle cx="52.7" cy="323.7" r="0.8" fill="#ffa0a0"/>
<circle cx="50.5" cy="330.3" r="2.4" fill="#f41818"/><circle cx="50.3" cy="329.9" r="0.8" fill="#ffa0a0"/>
<circle cx="48.5" cy="335.2" r="2.4" fill="#f41818"/><circle cx="48.3" cy="334.8" r="0.8" fill="#ffa0a0"/>
<circle cx="47.3" cy="339.6" r="2.4" fill="#f41818"/><circle cx="47.1" cy="339.2" r="0.8" fill="#ffa0a0"/>
<circle cx="46.2" cy="343.6" r="2.4" fill="#f41818"/><circle cx="46" cy="343.2" r="0.8" fill="#ffa0a0"/>
<path d="M185.9,205.2 H204.2" stroke="#f03030" stroke-width="1.2"/><circle cx="195.3" cy="205.2" r="2.2" fill="#151515"/>
<path d="M185.9,215.4 H204.2" stroke="#222" stroke-width="1.2"/><circle cx="195.3" cy="215.4" r="2.2" fill="#f41818"/>
<text x="207" y="208.2" font-size="8.6" font-family='"Liberation Serif", serif' fill="#222" text-anchor="start" stroke="#222" stroke-width="0.22" >post-treatment</text>
<text x="207" y="218.4" font-size="8.6" font-family='"Liberation Serif", serif' fill="#222" text-anchor="start" stroke="#222" stroke-width="0.22" >Control</text>
<path d="M316.8,365.5 h3 M316.8,348.72 h3 M316.8,331.94 h3 M316.8,315.16 h3 M316.8,298.38 h3 M316.8,281.6 h3 M316.8,264.82 h3 M316.8,248.04 h3 M316.8,231.26 h3 M316.8,214.48 h3 M316.8,197.7 h3 M322.6,365.5 v-3 M377.2,365.5 v-3 M431.8,365.5 v-3 M486.4,365.5 v-3 M541,365.5 v-3 M349.9,365.5 v-2 M404.5,365.5 v-2 M459.1,365.5 v-2 M513.7,365.5 v-2" stroke="#555" stroke-width="1" fill="none"/>
<rect x="316.8" y="197.7" width="224.4" height="167.8" fill="none" stroke="#777" stroke-width="1.1"/>
<text x="0" y="0" transform="translate(313.3,369.9) scale(0.9,1)" font-size="10.3" font-family='"Liberation Serif", serif' fill="#333" text-anchor="end" stroke="#333" stroke-width="0.22" >&#8722;10</text>
<text x="0" y="0" transform="translate(313.3,353.12) scale(0.9,1)" font-size="10.3" font-family='"Liberation Serif", serif' fill="#333" text-anchor="end" stroke="#333" stroke-width="0.22" >&#8722;8</text>
<text x="0" y="0" transform="translate(313.3,336.34) scale(0.9,1)" font-size="10.3" font-family='"Liberation Serif", serif' fill="#333" text-anchor="end" stroke="#333" stroke-width="0.22" >&#8722;6</text>
<text x="0" y="0" transform="translate(313.3,319.56) scale(0.9,1)" font-size="10.3" font-family='"Liberation Serif", serif' fill="#333" text-anchor="end" stroke="#333" stroke-width="0.22" >&#8722;4</text>
<text x="0" y="0" transform="translate(313.3,302.78) scale(0.9,1)" font-size="10.3" font-family='"Liberation Serif", serif' fill="#333" text-anchor="end" stroke="#333" stroke-width="0.22" >&#8722;2</text>
<text x="0" y="0" transform="translate(313.3,286) scale(0.9,1)" font-size="10.3" font-family='"Liberation Serif", serif' fill="#333" text-anchor="end" stroke="#333" stroke-width="0.22" >0</text>
<text x="0" y="0" transform="translate(313.3,269.22) scale(0.9,1)" font-size="10.3" font-family='"Liberation Serif", serif' fill="#333" text-anchor="end" stroke="#333" stroke-width="0.22" >2</text>
<text x="0" y="0" transform="translate(313.3,252.44) scale(0.9,1)" font-size="10.3" font-family='"Liberation Serif", serif' fill="#333" text-anchor="end" stroke="#333" stroke-width="0.22" >4</text>
<text x="0" y="0" transform="translate(313.3,235.66) scale(0.9,1)" font-size="10.3" font-family='"Liberation Serif", serif' fill="#333" text-anchor="end" stroke="#333" stroke-width="0.22" >6</text>
<text x="0" y="0" transform="translate(313.3,218.88) scale(0.9,1)" font-size="10.3" font-family='"Liberation Serif", serif' fill="#333" text-anchor="end" stroke="#333" stroke-width="0.22" >8</text>
<text x="0" y="0" transform="translate(313.3,202.1) scale(0.9,1)" font-size="10.3" font-family='"Liberation Serif", serif' fill="#333" text-anchor="end" stroke="#333" stroke-width="0.22" >10</text>
<text x="0" y="0" transform="translate(322.6,377.6) scale(0.9,1)" font-size="10.3" font-family='"Liberation Serif", serif' fill="#333" text-anchor="middle" stroke="#333" stroke-width="0.22" >0</text>
<text x="0" y="0" transform="translate(377.2,377.6) scale(0.9,1)" font-size="10.3" font-family='"Liberation Serif", serif' fill="#333" text-anchor="middle" stroke="#333" stroke-width="0.22" >50</text>
<text x="0" y="0" transform="translate(431.8,377.6) scale(0.9,1)" font-size="10.3" font-family='"Liberation Serif", serif' fill="#333" text-anchor="middle" stroke="#333" stroke-width="0.22" >100</text>
<text x="0" y="0" transform="translate(486.4,377.6) scale(0.9,1)" font-size="10.3" font-family='"Liberation Serif", serif' fill="#333" text-anchor="middle" stroke="#333" stroke-width="0.22" >150</text>
<text x="0" y="0" transform="translate(541,377.6) scale(0.9,1)" font-size="10.3" font-family='"Liberation Serif", serif' fill="#333" text-anchor="middle" stroke="#333" stroke-width="0.22" >200</text>
<text x="434.2" y="387.3" font-size="9.3" font-family='"Liberation Serif", serif' fill="#1a1a1a" text-anchor="middle" stroke="#1a1a1a" stroke-width="0.4" >Time (s)</text>
<text x="0" y="0" font-size="9" font-family='"Liberation Serif", serif' fill="#222" text-anchor="middle" stroke="#222" stroke-width="0.22" transform="translate(303.1,229) rotate(-90) scale(1.08,1)">J <tspan font-size="12.5">(</tspan>mA cm<tspan font-size="5.8" dy="-3.4">-2</tspan><tspan dy="3.4" font-size="12.5">)</tspan></text>
<text x="0" y="0" font-size="9.6" font-family='"Liberation Serif", serif' fill="#222" text-anchor="middle" stroke="#222" stroke-width="0.22" transform="translate(301,325.5) rotate(-90) scale(1.1,1)">-PCE <tspan font-size="12.5">(</tspan>%<tspan font-size="12.5">)</tspan></text>
<text x="272.5" y="214.1" font-size="16.8" font-family='"Liberation Serif", serif' fill="#111" text-anchor="start" stroke="#111" stroke-width="0.22" >(d)</text>
<path d="M318,281.6 H323 M322.9,226.5 V344" stroke="#f41818" stroke-width="1.2" fill="none"/>
<rect x="317.5" y="279.7" width="7" height="3.8" rx="1.9" fill="#f41818"/><rect x="319" y="281" width="4" height="1.2" fill="#ff9a9a"/>
<path d="M321.5,231.3 H541" stroke="#151515" stroke-width="3.4"/>
<path d="M321.5,228 H541" stroke="#f41818" stroke-width="5.6"/>
<path d="M322,227.6 H541" stroke="#ff8a8a" stroke-width="0.9" stroke-dasharray="1.3,2.4" opacity="0.55"/>
<path d="M321.5,339.3 H541" stroke="#151515" stroke-width="4.6"/>
<path d="M322,338.8 H541" stroke="#888" stroke-width="0.8" stroke-dasharray="1.3,2.4" opacity="0.6"/>
<path d="M321.5,345.3 H541" stroke="#f41818" stroke-width="4.6"/>
<path d="M322,345.6 H541" stroke="#ff8a8a" stroke-width="0.9" stroke-dasharray="1.3,2.4" opacity="0.55"/>
<text x="485.3" y="221" font-size="8.5" font-family='"Liberation Serif", serif' fill="#f41818" text-anchor="start" stroke="#f41818" stroke-width="0.22" >~6.47 mA cm<tspan font-size="6" dy="-3.8">-2</tspan></text>
<text x="485.3" y="244.3" font-size="8.5" font-family='"Liberation Serif", serif' fill="#222" text-anchor="start" stroke="#222" stroke-width="0.22" >~5.96 mA cm<tspan font-size="6" dy="-3.8">-2</tspan></text>
<text x="511.2" y="334.3" font-size="8.4" font-family='"Liberation Serif", serif' fill="#222" text-anchor="start" stroke="#222" stroke-width="0.22" >~6.83%</text>
<text x="511.5" y="355.6" font-size="8.4" font-family='"Liberation Serif", serif' fill="#f41818" text-anchor="start" stroke="#f41818" stroke-width="0.22" >~7.59%</text>
<path d="M364.8,275.5 H386" stroke="#f41818" stroke-width="1.2"/><circle cx="375.7" cy="275.5" r="2.1" fill="#f41818"/>
<path d="M364.8,287.5 H386" stroke="#222" stroke-width="1.2"/><circle cx="375.7" cy="287.5" r="2.1" fill="#151515"/>
<text x="389.7" y="279.2" font-size="9.25" font-family='"Liberation Serif", serif' fill="#222" text-anchor="start" stroke="#222" stroke-width="0.22" >Post-treatment: Bias: 1.173 V</text>
<text x="389.7" y="291.2" font-size="9.25" font-family='"Liberation Serif", serif' fill="#222" text-anchor="start" stroke="#222" stroke-width="0.22" >Control:</text>
<text x="439.5" y="291.2" font-size="9.25" font-family='"Liberation Serif", serif' fill="#222" text-anchor="start" stroke="#222" stroke-width="0.22" >Bias: 1.146 V</text>
</svg>
</body></html>
